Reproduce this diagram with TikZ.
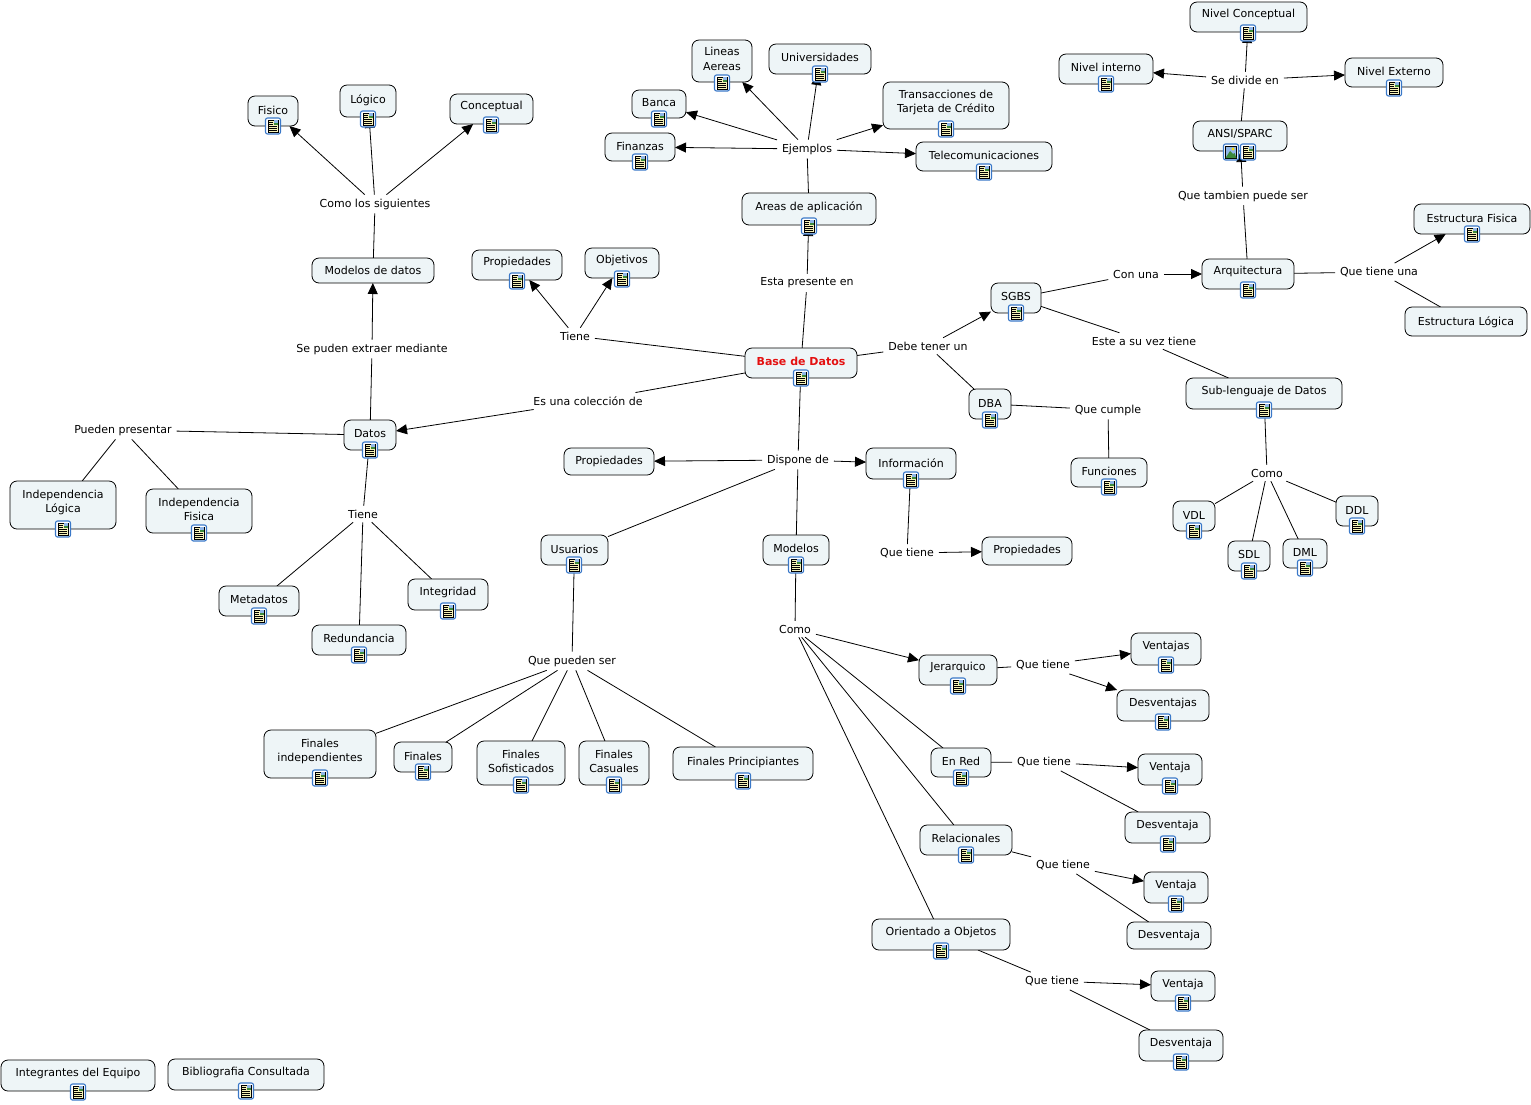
\documentclass[tikz,border=0pt]{standalone}
\usepackage{fontspec}
\setmainfont{DejaVu Sans}
\usetikzlibrary{arrows.meta,backgrounds}
\definecolor{boxfill}{HTML}{EEF5F7}
\definecolor{iconblue}{HTML}{3A78C8}
\definecolor{iconpage}{HTML}{F6F2B8}
\definecolor{iconsky}{HTML}{8FB6E8}
\definecolor{icongreen}{HTML}{3C8A3C}
\definecolor{labred}{HTML}{E41010}
\tikzset{
  x=1pt,y=-1pt,
  every node/.append style={font=\fontsize{11}{14.5}\selectfont},
  cbox/.style={draw=black,line width=0.8pt,fill=boxfill,rounded corners=7pt,inner sep=0pt,outer sep=0pt},
  ctext/.style={inner sep=0pt,align=center,text=black},
  link/.style={fill=white,inner xsep=2pt,inner ysep=1pt,outer sep=3pt,text=black},
  conn/.style={line width=0.8pt,draw=black},
  arr/.style={conn,-{Triangle[length=11pt,width=10pt]}},
}
% name, x0,y0,x1,y1, text-centre y, text
\newcommand{\nd}[7]{%
  \node[cbox,minimum width=#4pt-#2pt,minimum height=#5pt-#3pt] (#1) at ({(#2+#4)/2},{(#3+#5)/2}) {};
  \node[ctext] (#1t) at ({(#2+#4)/2},#6) {#7};}
\newcommand{\lk}[4]{\node[link] (#1) at (#2,#3) {#4};}
\newcommand{\frameicon}[2]{%
  \fill[white,draw=iconblue,line width=1.1pt,rounded corners=2pt] (#1-7.5,#2-8) rectangle (#1+7.5,#2+8);}
\newcommand{\docicon}[2]{%
  \frameicon{#1}{#2}
  \fill[iconpage,draw=black,line width=0.5pt] (#1-5,#2-6) rectangle (#1+5,#2+6);
  \fill[iconsky] (#1+0.5,#2-6) rectangle (#1+5,#2-1.5);
  \fill[icongreen] (#1+1,#2-3.5) rectangle (#1+5,#2-1.5);
  \draw[black,line width=0.6pt] (#1-4,#2-4) -- (#1,#2-4) (#1-4,#2-2) -- (#1,#2-2) (#1-4,#2) -- (#1+4,#2) (#1-4,#2+2) -- (#1+4,#2+2) (#1-4,#2+4) -- (#1+4,#2+4);}
\newcommand{\imgicon}[2]{%
  \frameicon{#1}{#2}
  \fill[iconsky,draw=black,line width=0.5pt] (#1-5.5,#2-6) rectangle (#1+5.5,#2+6);
  \fill[icongreen] (#1-5.5,#2+6) -- (#1-1,#2-1) -- (#1+2,#2+2) -- (#1+3.5,#2+1) -- (#1+5.5,#2+6) -- cycle;
  \fill[yellow!80!orange] (#1+2,#2-3) circle (1.6);}
\begin{document}
\begin{tikzpicture}
\useasboundingbox (0,0) rectangle (1531,1104);
\nd{fisico}{248}{96}{298}{126}{110}{Fisico}
\nd{logico}{340}{85}{396}{117}{100}{Lógico}
\nd{concept}{450}{94}{533}{124}{106}{Conceptual}
\nd{moddatos}{312}{258}{434}{283}{270}{Modelos de datos}
\nd{propa}{472}{250}{562}{280}{262}{Propiedades}
\nd{objet}{585}{248}{659}{278}{260}{Objetivos}
\nd{lineas}{692}{40}{752}{82}{59}{Lineas\\Aereas}
\nd{univ}{769}{44}{871}{74}{57}{Universidades}
\nd{banca}{632}{90}{686}{118}{103}{Banca}
\nd{finanzas}{605}{133}{675}{161}{146}{Finanzas}
\nd{trans}{883}{82}{1009}{129}{102.5}{Transacciones de\\Tarjeta de Crédito}
\nd{telecom}{916}{142}{1052}{171}{155}{Telecomunicaciones}
\nd{areas}{742}{193}{876}{225}{207}{Areas de aplicación}
\nd{nconc}{1190}{2}{1307}{32}{14}{Nivel Conceptual}
\nd{nint}{1059}{54}{1153}{84}{67}{Nivel interno}
\nd{next}{1345}{58}{1443}{87}{71}{Nivel Externo}
\nd{ansi}{1193}{121}{1287}{151}{134}{ANSI/SPARC}
\nd{efis}{1414}{204}{1530}{234}{218}{Estructura Fisica}
\nd{arq}{1202}{259}{1294}{289}{271}{Arquitectura}
\nd{elog}{1405}{307}{1527}{336}{322}{Estructura Lógica}
\nd{sgbs}{991}{283}{1041}{313}{296}{SGBS}
\nd{sub}{1186}{378}{1342}{409}{391}{Sub-lenguaje de Datos}
\nd{dba}{969}{389}{1011}{419}{403}{DBA}
\nd{func}{1071}{458}{1147}{487}{471}{Funciones}
\nd{vdl}{1173}{501}{1215}{531}{515}{VDL}
\nd{ddl}{1336}{496}{1378}{526}{510}{DDL}
\nd{sdl}{1228}{541}{1270}{571}{554}{SDL}
\nd{dml}{1283}{539}{1327}{568}{552}{DML}
\nd{info}{866}{448}{956}{479}{463}{Información}
\nd{propb}{564}{448}{654}{475}{461}{Propiedades}
\nd{propc}{982}{537}{1072}{565}{550}{Propiedades}
\nd{usu}{541}{535}{608}{565}{549}{Usuarios}
\nd{mod}{763}{535}{829}{565}{548}{Modelos}
\nd{datos}{344}{420}{396}{450}{434}{Datos}
\nd{indl}{10}{481}{116}{529}{502.5}{Independencia\\Lógica}
\nd{indf}{146}{489}{252}{533}{509.5}{Independencia\\Fisica}
\nd{meta}{219}{586}{299}{616}{599}{Metadatos}
\nd{red}{312}{625}{406}{655}{638}{Redundancia}
\nd{integ}{408}{579}{488}{610}{592}{Integridad}
\nd{find}{264}{730}{376}{778}{751.5}{Finales\\independientes}
\nd{fin}{394}{742}{452}{772}{756}{Finales}
\nd{fsof}{477}{741}{565}{785}{761.5}{Finales\\Sofisticados}
\nd{fcas}{579}{741}{649}{785}{761.5}{Finales\\Casuales}
\nd{fpri}{673}{747}{813}{780}{762}{Finales Principiantes}
\nd{jer}{919}{655}{997}{685}{667}{Jerarquico}
\nd{vjer}{1131}{633}{1201}{665}{646}{Ventajas}
\nd{djer}{1117}{690}{1209}{721}{703}{Desventajas}
\nd{enred}{931}{748}{991}{777}{761}{En Red}
\nd{vred}{1138}{754}{1202}{785}{767}{Ventaja}
\nd{dred}{1125}{812}{1210}{843}{825}{Desventaja}
\nd{rel}{920}{825}{1012}{855}{838}{Relacionales}
\nd{vrel}{1144}{872}{1208}{903}{885}{Ventaja}
\nd{drel}{1127}{922}{1211}{949}{935}{Desventaja}
\nd{ori}{872}{919}{1010}{950}{932}{Orientado a Objetos}
\nd{vori}{1151}{971}{1215}{1001}{984}{Ventaja}
\nd{dori}{1139}{1030}{1223}{1061}{1043}{Desventaja}
\nd{integr}{1}{1060}{155}{1091}{1073}{Integrantes del Equipo}
\nd{biblio}{168}{1059}{324}{1090}{1072}{Bibliografia Consultada}
\nd{base}{745}{348}{857}{378}{361}{\textbf{\textcolor{labred}{Base de Datos}}}
% linking phrases
\lk{lcomo}{375}{204}{Como los siguientes}
\lk{lext}{372}{349}{Se puden extraer mediante}
\lk{ltiene}{575}{336}{Tiene}
\lk{lcol}{588}{401}{Es una colección de}
\lk{lpres}{807}{283}{Esta presente en}
\lk{lej}{807}{149}{Ejemplos}
\lk{ldeb}{928}{346}{Debe tener un}
\lk{ldis}{798}{460}{Dispone de}
\lk{lcon}{1136}{274}{Con una}
\lk{lqtu}{1379}{272}{Que tiene una}
\lk{lest}{1144}{341}{Este a su vez tiene}
\lk{lcum}{1108}{410}{Que cumple}
\lk{lcomob}{1267}{473}{Como}
\lk{ldiv}{1245}{80}{Se divide en}
\lk{ltam}{1243}{196}{Que tambien puede ser}
\lk{lqinf}{907}{553}{Que tiene}
\lk{lpue}{123}{430}{Pueden presentar}
\lk{ltid}{363}{514}{Tiene}
\lk{lqpu}{572}{661}{Que pueden ser}
\lk{lcomom}{795}{629}{Como}
\lk{lqjer}{1043}{665}{Que tiene}
\lk{lqred}{1044}{762}{Que tiene}
\lk{lqrel}{1063}{865}{Que tiene}
\lk{lqori}{1052}{981}{Que tiene}
% connectors
\begin{scope}[on background layer]
\draw[conn] (moddatos) -- (lcomo);
\foreach \t in {fisico,logico,concept} \draw[arr] (lcomo) -- (\t);
\draw[conn] (datos) -- (lext);
\draw[arr] (lext) -- (moddatos);
\draw[conn] (base) -- (ltiene);
\foreach \t in {propa,objet} \draw[arr] (ltiene) -- (\t);
\draw[conn] (base) -- (lcol);
\draw[arr] (lcol) -- (datos);
\draw[conn] (base) -- (lpres);
\draw[arr] (lpres) -- (areas);
\draw[conn] (areas) -- (lej);
\foreach \t in {lineas,univ,banca,finanzas,trans,telecom} \draw[arr] (lej) -- (\t);
\draw[conn] (base) -- (ldeb);
\draw[arr] (ldeb) -- (sgbs);
\draw[conn] (ldeb) -- (dba);
\draw[conn] (sgbs) -- (lcon);
\draw[arr] (lcon) -- (arq);
\draw[conn] (sgbs) -- (lest);
\draw[conn] (lest) -- (sub);
\draw[conn] (arq) -- (lqtu);
\draw[arr] (lqtu) -- (efis);
\draw[conn] (lqtu) -- (elog);
\draw[conn] (arq) -- (ltam);
\draw[arr] (ltam) -- (ansi);
\draw[conn] (ansi) -- (ldiv);
\foreach \t in {nint,next,nconc} \draw[arr] (ldiv) -- (\t);
\draw[conn] (dba) -- (lcum);
\draw[conn] (lcum) -- (func);
\draw[conn] (sub) -- (lcomob);
\foreach \t in {vdl,sdl,dml,ddl} \draw[conn] (lcomob) -- (\t);
\draw[conn] (base) -- (ldis);
\foreach \t in {propb,info} \draw[arr] (ldis) -- (\t);
\foreach \t in {usu,mod} \draw[conn] (ldis) -- (\t);
\draw[conn] (info) -- (lqinf);
\draw[arr] (lqinf) -- (propc);
\draw[conn] (usu) -- (lqpu);
\foreach \t in {find,fin,fsof,fcas,fpri} \draw[conn] (lqpu) -- (\t);
\draw[conn] (mod) -- (lcomom);
\draw[arr] (lcomom) -- (jer);
\foreach \t in {enred,rel,ori} \draw[conn] (lcomom) -- (\t);
\draw[conn] (jer) -- (lqjer);
\foreach \t in {vjer,djer} \draw[arr] (lqjer) -- (\t);
\draw[conn] (enred) -- (lqred);
\draw[arr] (lqred) -- (vred);
\draw[conn] (lqred) -- (dred);
\draw[conn] (rel) -- (lqrel);
\draw[arr] (lqrel) -- (vrel);
\draw[conn] (lqrel) -- (drel);
\draw[conn] (ori) -- (lqori);
\draw[arr] (lqori) -- (vori);
\draw[conn] (lqori) -- (dori);
\draw[conn] (datos) -- (lpue);
\foreach \t in {indl,indf} \draw[conn] (lpue) -- (\t);
\draw[conn] (datos) -- (ltid);
\foreach \t in {meta,red,integ} \draw[conn] (ltid) -- (\t);
\end{scope}
% icons
\docicon{273}{126}\docicon{368}{119}\docicon{491}{125}\docicon{517}{281}\docicon{622}{279}
\docicon{722}{83}\docicon{820}{74}\docicon{659}{119}\docicon{640}{162}\docicon{946}{129}
\docicon{984}{172}\docicon{809}{226}\docicon{1248}{33}\docicon{1106}{84}\docicon{1394}{88}
\imgicon{1231}{152}\docicon{1248}{152}\docicon{1472}{234}\docicon{1248}{290}\docicon{1016}{313}
\docicon{1264}{410}\docicon{990}{420}\docicon{1109}{487}\docicon{1194}{531}\docicon{1357}{526}
\docicon{1249}{571}\docicon{1305}{568}\docicon{911}{480}\docicon{574}{565}\docicon{796}{565}
\docicon{370}{450}\docicon{63}{529}\docicon{199}{533}\docicon{259}{616}\docicon{359}{655}
\docicon{448}{611}\docicon{320}{778}\docicon{423}{772}\docicon{521}{785}\docicon{614}{785}
\docicon{743}{781}\docicon{958}{686}\docicon{1166}{665}\docicon{1163}{722}\docicon{961}{778}
\docicon{1170}{786}\docicon{1168}{844}\docicon{966}{855}\docicon{1176}{904}\docicon{941}{951}
\docicon{1183}{1003}\docicon{1181}{1062}\docicon{78}{1092}\docicon{246}{1091}\docicon{801}{378}
\end{tikzpicture}
\end{document}
